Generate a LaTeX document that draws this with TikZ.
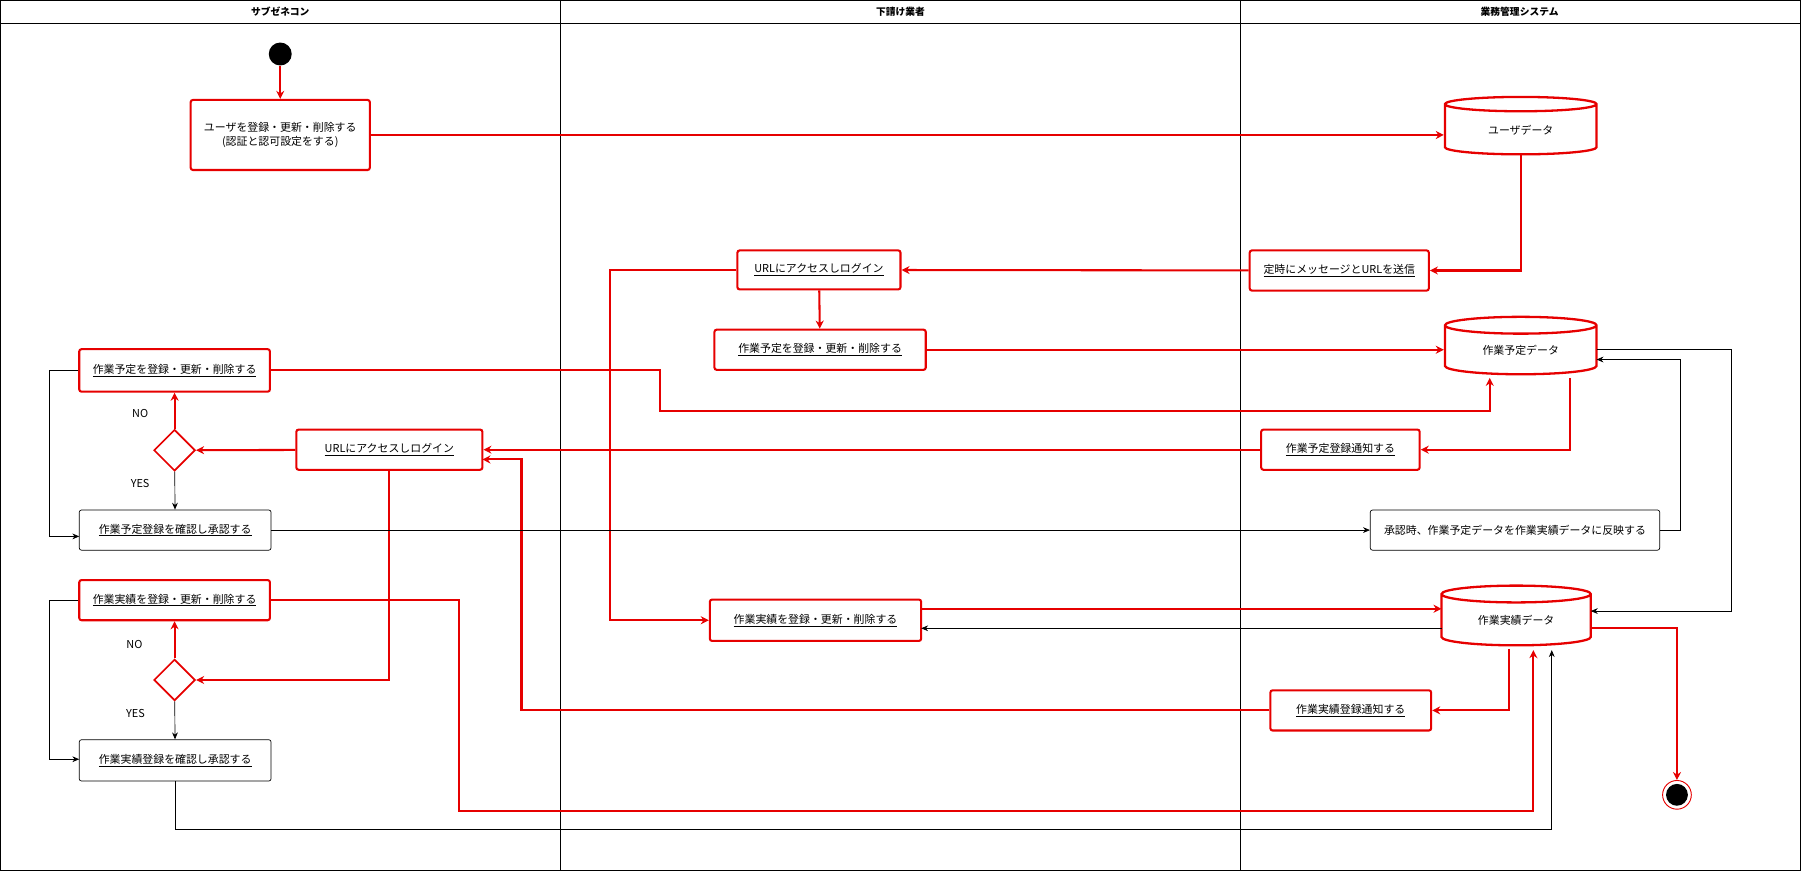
\documentclass[tikz,border=0pt]{standalone}
\usepackage{fontspec}
\setmainfont{Noto Sans CJK JP}
\usetikzlibrary{shapes.geometric,arrows.meta}
\definecolor{rd}{RGB}{230,0,0}
\begin{document}
\begin{tikzpicture}[x=1pt,y=-1pt,
  font=\fontsize{9.5}{12}\selectfont,
  rbox/.style={draw=rd,line width=1.8pt,rounded corners=2pt,inner sep=0pt,align=center},
  bbox/.style={draw=black,line width=0.6pt,rounded corners=2pt,inner sep=0pt,align=center},
  cyl/.style={cylinder,shape border rotate=90,aspect=0.22,draw=rd,line width=2pt,inner sep=0pt},
  dia/.style={diamond,aspect=1,draw=rd,line width=1.5pt,minimum size=36pt,inner sep=0pt},
  ra/.style={draw=rd,line width=1.8pt,-{Stealth[length=7pt,width=7pt]}},
  ta/.style={draw=rd,line width=1pt,-{Stealth[length=7pt,width=7pt]}},
  ba/.style={draw=black,line width=0.6pt,-{Stealth[length=6pt,width=5pt]}},
  hd/.style={font=\fontsize{8.5}{10}\selectfont\bfseries}]
\useasboundingbox (0,0) rectangle (1568,758);
\draw[line width=0.6pt] (0.5,0.5) rectangle (1567.5,757.5);
\draw[line width=0.6pt] (0.5,20) -- (1567.5,20) (488,0.5) -- (488,757.5) (1080,0.5) -- (1080,757.5);
\node[hd] (h1) at (244,10) {サブゼネコン};
\node[hd] (h2) at (784,10) {下請け業者};
\node[hd] (h3) at (1323,10) {業務管理システム};
\node[circle,fill=black,minimum size=20pt,inner sep=0pt] (st) at (244,47) {};
\node[rbox,minimum width=156pt,minimum height=61pt] (b1) at (244,117.5) {ユーザを登録・更新・削除する\\(認証と認可設定をする)};
\node[cyl,minimum width=132pt,minimum height=50pt] (cyU) at (1324,113) {ユーザデータ};
\node[rbox,minimum width=156pt,minimum height=35pt] (tei) at (1166,235.5) {\underline{定時にメッセージとURLを送信}};
\node[rbox,minimum width=142pt,minimum height=34pt] (url2) at (713,235) {\underline{URLにアクセスしログイン}};
\node[rbox,minimum width=184pt,minimum height=35pt] (yotei2) at (714,304.5) {\underline{作業予定を登録・更新・削除する}};
\node[cyl,minimum width=132pt,minimum height=50pt] (cyY) at (1324,305) {作業予定データ};
\node[rbox,minimum width=184pt,minimum height=36pt] (jis2) at (710,540) {\underline{作業実績を登録・更新・削除する}};
\node[rbox,minimum width=166pt,minimum height=37pt] (yotei1) at (152,322.5) {\underline{作業予定を登録・更新・削除する}};
\node[dia] (d1) at (152,392) {};
\node[rbox,minimum width=162pt,minimum height=35pt] (url1) at (339,391.5) {\underline{URLにアクセスしログイン}};
\node[rbox,minimum width=138pt,minimum height=35pt] (ytu) at (1167,391.5) {\underline{作業予定登録通知する}};
\node[bbox,minimum width=167pt,minimum height=35pt] (app1) at (152.5,461.5) {\underline{作業予定登録を確認し承認する}};
\node[bbox,minimum width=252pt,minimum height=35pt] (han) at (1319,461.5) {承認時、作業予定データを作業実績データに反映する};
\node[cyl,minimum width=130pt,minimum height=52pt] (cyJ) at (1320,540) {作業実績データ};
\node[rbox,minimum width=166pt,minimum height=35pt] (jis1) at (152,522.5) {\underline{作業実績を登録・更新・削除する}};
\node[dia] (d2) at (152,592) {};
\node[bbox,minimum width=167pt,minimum height=36pt] (app2) at (152.5,662) {\underline{作業実績登録を確認し承認する}};
\node[rbox,minimum width=140pt,minimum height=35pt] (jtu) at (1176,618.5) {\underline{作業実績登録通知する}};
\node[circle,draw=rd,line width=0.8pt,minimum size=25pt,inner sep=0pt] (en) at (1460,692) {};
\node[circle,fill=black,minimum size=19pt,inner sep=0pt] at (en) {};
\node (no1) at (122,360) {NO};
\node (yes1) at (122,421) {YES};
\node (no2) at (117,561) {NO};
\node (yes2) at (118,621) {YES};
\draw[ra] (st) -- (b1);
\draw[ta] (b1.east) -- (b1.east -| cyU.west);
\draw[ra] (cyU.south) |- (tei.east);
\draw[ra] (tei) -- (url2);
\draw[ra] (url2) -- (yotei2);
\draw[ra] (yotei2.east) -- (yotei2.east -| cyY.west);
\draw[ra] (url2.west) -- (531,235) -- (531,540) -- (jis2.west);
\draw[ra] (yotei1.east) -- (575,322.5) -- (575,358) -- (1297,358) -- (1297,329);
\draw[ra] (d1) -- (yotei1);
\draw[ra] (url1) -- (d1);
\draw[ra] (ytu) -- (url1);
\draw[ra] (1367,329) |- (ytu.east);
\draw[ra] (jis2.east |- 530,530) -- (1255,530);
\draw[ra] (d2) -- (jis1);
\draw[ra] (url1.south) |- (d2.east);
\draw[ra] (1314,565) |- (jtu.east);
\draw[ra] (jtu.west) -- (454,618.5) -- (454,400) -- (420,400);
\draw[ra] (jis1.east) -- (400,522.5) -- (400,706) -- (1335,706) -- (1335,566);
\draw[ra] (1385,547) -- (1460,547) -- (en.north);
\draw[ba] (d1) -- (app1);
\draw[ba] (d2) -- (app2);
\draw[ba] (yotei1.west) -- (43,322.5) -- (43,467) -- (69,467);
\draw[ba] (jis1.west) -- (43,522.5) -- (43,661) -- (69,661);
\draw[ba] (app1.east) -- (han.west);
\draw[ba] (han.east) -- (1463,461.5) -- (1463,313) -- (1390,313);
\draw[ba] (1390,304) -- (1507,304) -- (1507,532) -- (1385,532);
\draw[ba] (1255,547) -- (802,547);
\draw[ba] (app2.south) -- (152.5,722) -- (1351,722) -- (1351,566);
\end{tikzpicture}
\end{document}
